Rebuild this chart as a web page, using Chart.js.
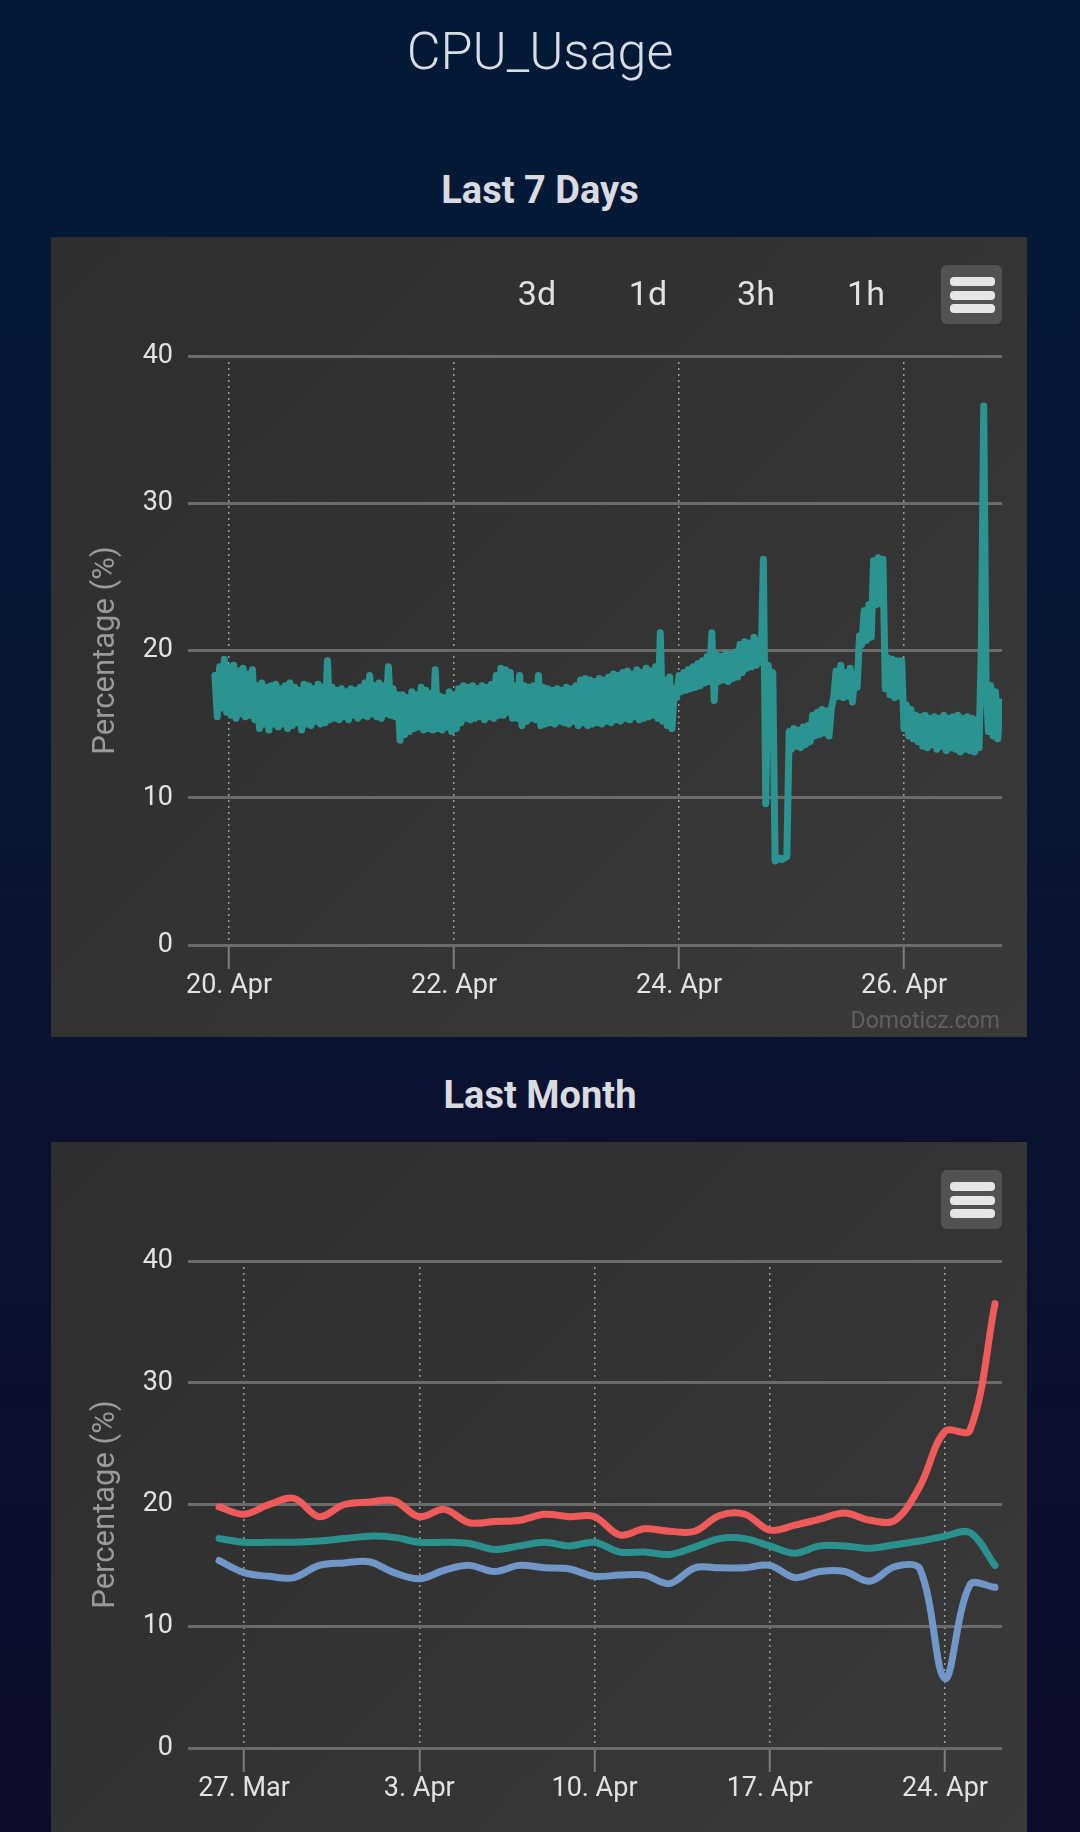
<!DOCTYPE html>
<html>
<head>
<meta charset="utf-8">
<title>CPU_Usage</title>
<script src="https://cdn.jsdelivr.net/npm/chart.js@4.4.1/dist/chart.umd.min.js"></script>
<style>
    html, body { margin: 0; padding: 0; }
    body {
        width: 1080px; height: 1832px; overflow: hidden; position: relative;
        background: linear-gradient(to bottom, #021a37 0%, #061734 35%, #0a1230 60%, #0e0c2b 100%);
        font-family: Roboto, "Noto Sans", sans-serif;
    }
    .title { position: absolute; left: 0; width: 1080px; top: 22px; text-align: center;
             font-size: 52px; line-height: 60px; font-weight: 300; color: #d9dee6; }
    .sub { position: absolute; left: 0; width: 1080px; text-align: center;
           font-size: 38px; line-height: 46px; font-weight: 700; color: #dadbe0; }
    .panel { position: absolute; left: 51px; width: 976px; overflow: hidden;
             background: linear-gradient(135deg, #2e2e2e 0%, #333333 50%, #3a3a3a 100%); }
    .panel canvas { position: absolute; left: 0; top: 0; }
    .range { position: absolute; top: 36px; width: 80px; margin-left: -40px; text-align: center;
             font-size: 34px; line-height: 40px; color: #e2e2e2; }
    .menu { position: absolute; left: 890px; top: 28px; width: 61px; height: 59px;
            background: #525252; border-radius: 6px; }
    .menu span { position: absolute; left: 9px; width: 45px; height: 9px; border-radius: 4px; background: #e6e6e6; }
    .mark { position: absolute; right: 27px; top: 770px; font-size: 23px; line-height: 27px; color: #606060; }
</style>
</head>
<body>
<div class="title">CPU_Usage</div>

<div class="sub" style="top:167px;">Last 7 Days</div>
<div class="panel" style="top:237px; height:800px;">
    <canvas id="weekChart" width="976" height="800"></canvas>
    <div class="range" style="left:486px;">3d</div>
    <div class="range" style="left:597px;">1d</div>
    <div class="range" style="left:705px;">3h</div>
    <div class="range" style="left:815px;">1h</div>
    <div class="menu"><span style="top:12px"></span><span style="top:26px"></span><span style="top:39px"></span></div>
    <div class="mark">Domoticz.com</div>
</div>

<div class="sub" style="top:1072px;">Last Month</div>
<div class="panel" style="top:1142px; height:698px;">
    <canvas id="monthChart" width="976" height="698"></canvas>
    <div class="menu"><span style="top:12px"></span><span style="top:26px"></span><span style="top:39px"></span></div>
</div>

<script>
// Last 7 days: one sample every half hour, first one 3h before 20 Apr 00:00
const weekStartHour = -3;
const weekStepHours = 0.5;
const weekTickHours = [0, 48, 96, 144];
const weekTickLabels = ['20. Apr', '22. Apr', '24. Apr', '26. Apr'];
const weekCpu = [
    18.3, 15.5, 18.9, 16.1, 19.4, 15.8, 18.9, 15.6, 19.0, 15.4,
    18.6, 15.7, 18.8, 15.5, 18.4, 15.6, 18.7, 15.3, 17.6, 14.7,
    17.8, 15.0, 17.5, 14.6, 17.6, 15.0, 17.7, 14.8, 17.4, 15.0,
    17.6, 14.7, 17.8, 14.9, 17.5, 15.1, 17.3, 14.6, 17.7, 15.0,
    17.6, 14.9, 17.4, 15.2, 17.7, 15.0, 17.5, 15.1, 19.3, 15.3,
    17.5, 15.4, 17.3, 15.3, 17.4, 15.5, 17.2, 15.3, 17.4, 15.6,
    17.3, 15.4, 17.5, 15.6, 17.8, 15.5, 18.3, 15.7, 17.6, 15.5,
    17.8, 15.4, 17.6, 15.7, 18.9, 15.6, 17.4, 15.5, 17.0, 13.9,
    17.0, 14.3, 16.8, 14.5, 17.2, 14.7, 17.0, 14.8, 17.5, 14.6,
    17.3, 14.7, 17.1, 14.6, 18.7, 14.7, 16.9, 14.6, 16.8, 14.8,
    17.2, 14.5, 17.0, 14.7, 17.4, 15.1, 17.6, 15.4, 17.5, 15.3,
    17.6, 15.4, 17.4, 15.5, 17.6, 15.3, 17.5, 15.5, 17.7, 15.4,
    18.3, 15.6, 18.8, 15.6, 18.7, 15.8, 18.5, 15.4, 17.6, 15.4,
    18.3, 14.9, 17.6, 15.2, 17.5, 15.4, 17.6, 15.3, 18.3, 14.9,
    17.5, 15.0, 17.4, 15.1, 17.3, 15.0, 17.4, 15.2, 17.3, 15.1,
    17.5, 15.0, 17.4, 15.2, 17.6, 14.9, 18.0, 15.1, 18.1, 14.9,
    18.0, 15.0, 17.9, 15.1, 18.1, 15.0, 18.0, 15.2, 18.2, 15.1,
    18.4, 15.3, 18.3, 15.2, 18.5, 15.4, 18.6, 15.3, 18.4, 15.5,
    18.7, 15.3, 18.5, 15.4, 18.8, 15.5, 18.6, 15.6, 18.9, 15.4,
    21.2, 15.2, 18.0, 14.9, 18.2, 14.7, 17.4, 16.8, 18.3, 17.2,
    18.5, 17.3, 18.7, 17.4, 18.9, 17.5, 19.1, 17.6, 19.3, 17.8,
    19.6, 17.9, 21.2, 16.6, 19.7, 17.9, 19.6, 18.0, 19.8, 17.9,
    19.7, 18.1, 19.9, 18.2, 20.4, 18.5, 20.6, 18.8, 20.5, 18.9,
    20.9, 19.0, 20.7, 19.2, 26.2, 9.6, 19.0, 18.0, 18.5, 5.7,
    5.8, 5.9, 5.8, 5.9, 6.0, 14.5, 13.3, 14.7, 13.5, 14.6,
    13.4, 14.8, 13.6, 14.9, 13.8, 15.6, 14.2, 15.8, 14.3, 16.0,
    14.4, 15.9, 14.2, 16.1, 16.8, 18.6, 16.9, 19.0, 16.8, 18.5,
    16.9, 18.8, 16.5, 18.4, 17.5, 21.0, 20.4, 22.7, 20.7, 23.1,
    20.9, 26.1, 23.1, 26.3, 23.2, 26.2, 17.4, 19.5, 17.0, 19.4,
    16.8, 19.3, 16.9, 19.3, 14.7, 16.3, 14.2, 16.0, 14.0, 15.6,
    13.8, 15.5, 13.5, 15.6, 13.4, 15.4, 13.6, 15.5, 13.3, 15.4,
    13.5, 15.6, 13.2, 15.4, 13.4, 15.5, 13.3, 15.6, 13.1, 15.4,
    13.3, 15.5, 13.2, 15.4, 13.1, 15.3, 13.4, 20.4, 36.6, 17.9,
    14.5, 17.6, 14.2, 17.2, 14.0, 16.5
];

// Last month: daily values, day 0 = 26 Mar
const monthTickDays = [1, 8, 15, 22, 29];
const monthTickLabels = ['27. Mar', '3. Apr', '10. Apr', '17. Apr', '24. Apr'];
const monthMax = [
    19.8, 19.2, 20.0, 20.5, 19.0, 20.0, 20.2, 20.3, 19.0, 19.6,
    18.5, 18.6, 18.7, 19.2, 19.0, 19.0, 17.5, 18.0, 17.8, 17.8,
    19.1, 19.2, 17.9, 18.3, 18.8, 19.3, 18.7, 18.7, 21.5, 26.0,
    26.1, 36.5
];
const monthAvg = [
    17.2, 16.9, 16.9, 16.9, 17.0, 17.2, 17.4, 17.3, 16.9, 16.9,
    16.8, 16.3, 16.6, 16.9, 16.6, 16.9, 16.1, 16.1, 15.9, 16.5,
    17.2, 17.2, 16.6, 16.0, 16.6, 16.6, 16.4, 16.7, 17.0, 17.4,
    17.7, 15.0
];
const monthMin = [
    15.4, 14.4, 14.1, 14.0, 15.0, 15.2, 15.3, 14.4, 13.9, 14.6,
    15.0, 14.5, 15.0, 14.8, 14.7, 14.1, 14.2, 14.2, 13.5, 14.8,
    14.8, 14.8, 15.0, 14.0, 14.5, 14.5, 13.7, 14.9, 14.7, 5.7,
    13.4, 13.2
];

Chart.defaults.font.family = 'Roboto, "Noto Sans", sans-serif';

function chartOptions(xMin, xMax, tickValues, tickLabels) {
    return {
        animation: false,
        responsive: false,
        events: [],
        layout: { padding: { top: 119, right: 25, left: 0, bottom: 0 } },
        plugins: { legend: { display: false }, tooltip: { enabled: false } },
        scales: {
            x: {
                type: 'linear',
                min: xMin,
                max: xMax,
                afterBuildTicks: s => { s.ticks = tickValues.map(v => ({ value: v })); },
                afterFit: s => { s.height = 92; },
                ticks: {
                    color: '#e2e2e2', font: { size: 27 }, padding: 1,
                    maxRotation: 0, autoSkip: false,
                    callback: (v, i) => tickLabels[i]
                },
                grid: { color: '#9c9c9c', lineWidth: 1.5, tickColor: '#7d7d7d', tickWidth: 2, tickLength: 24, tickBorderDash: [] },
                border: { display: false, dash: [2, 4] }
            },
            y: {
                min: 0,
                max: 40,
                afterFit: s => { s.width = 137; },
                ticks: { stepSize: 10, color: '#e2e2e2', font: { size: 27 }, padding: 15 },
                grid: { color: '#6b6b6b', lineWidth: 3, drawTicks: false },
                border: { display: false },
                title: {
                    display: true, text: 'Percentage (%)', color: '#9a9a9a',
                    font: { size: 31 }, padding: { top: 37, bottom: 0 }
                }
            }
        }
    };
}

const lineStyle = { pointRadius: 0, borderWidth: 7, borderJoinStyle: 'round', borderCapStyle: 'round', fill: false };

new Chart(document.getElementById('weekChart'), {
    type: 'line',
    data: {
        datasets: [{
            ...lineStyle,
            data: weekCpu.map((v, i) => ({ x: weekStartHour + i * weekStepHours, y: v })),
            borderColor: '#2b9490',
            tension: 0
        }]
    },
    options: chartOptions(-8.75, 164.9, weekTickHours, weekTickLabels)
});

const dayPoints = arr => arr.map((v, i) => ({ x: i, y: v }));

new Chart(document.getElementById('monthChart'), {
    type: 'line',
    data: {
        datasets: [
            { ...lineStyle, data: dayPoints(monthMin), borderColor: '#7097c7', tension: 0.35 },
            { ...lineStyle, data: dayPoints(monthAvg), borderColor: '#2a918d', tension: 0.35 },
            { ...lineStyle, data: dayPoints(monthMax), borderColor: '#ef5b5b', tension: 0.35 }
        ]
    },
    options: chartOptions(-1.24, 31.28, monthTickDays, monthTickLabels)
});
</script>
</body>
</html>
